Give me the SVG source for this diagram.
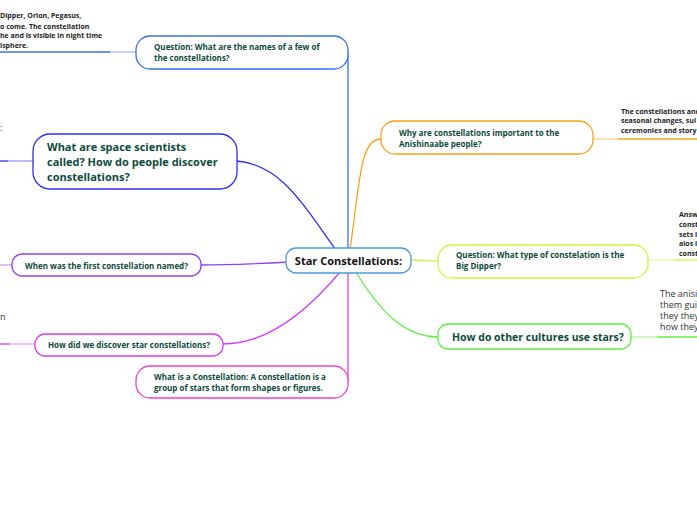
<svg xmlns="http://www.w3.org/2000/svg" width="697" height="520" viewBox="0 0 697 520">
<style>
.n{fill:#fff;stroke-width:1.3}
.t{font-family:"Open Sans","Noto Sans",sans-serif;font-weight:bold;fill:#0c4a3c}
.s{font-size:8px}
.b{font-size:11px}
.l{font-family:"Open Sans","Noto Sans",sans-serif;font-size:7px;font-weight:bold;fill:#222}
.ln{font-family:"Open Sans","Noto Sans",sans-serif;font-size:9px;fill:#333}
path{fill:none;stroke-width:1.3}
</style>
<rect width="697" height="520" fill="#fff"/>
<g id="connectors">
<path d="M348 260 L348 55 Q348 52 345 52" stroke="#3b6cf7"/>
<path d="M336 250 C300 200 280 165 237 161" stroke="#3030e8"/>
<path d="M290 262 C250 264 230 265 201 265" stroke="#9040f0"/>
<path d="M340 272 C300 320 260 344 223 344" stroke="#d040f0"/>
<path d="M348 272 L348 382" stroke="#f040d0"/>
<path d="M350 250 C360 180 360 139 381 139" stroke="#f7a21b"/>
<path d="M411 260 C425 260 430 261 438 261" stroke="#d8f040"/>
<path d="M356 272 C385 320 410 337 438 337" stroke="#60f040"/>
<path d="M136 52 L110 52" stroke="#9db6fb"/><path d="M110 52 L0 52" stroke="#3b6cf7" stroke-width="2"/>
<path d="M33 161 L8 161" stroke="#9898f3"/><path d="M8 161 L0 161" stroke="#3030e8" stroke-width="2"/>
<path d="M12 265 L0 265" stroke="#c8a0f8"/>
<path d="M35 344 L10 344" stroke="#e8a0f8"/><path d="M10 344 L0 344" stroke="#d040f0" stroke-width="2"/>
<path d="M593 139 L618 139" stroke="#fbd08d"/><path d="M618 139 L697 139" stroke="#f7a21b" stroke-width="2"/>
<path d="M648 260 L675 260" stroke="#ecf8a0"/><path d="M675 260 L697 260" stroke="#d8f040" stroke-width="2"/>
<path d="M631 337 L657 337" stroke="#b0f8a0"/><path d="M657 337 L697 337" stroke="#60f040" stroke-width="2"/>
</g>
<g id="center"><rect class="n" x="286" y="248" width="125" height="25" rx="10" stroke="#4a9ad8"/><text x="348.5" y="264.5" text-anchor="middle" font-family="Open Sans,sans-serif" font-weight="bold" font-size="11" fill="#111">Star Constellations:</text></g>
<g id="q1"><rect class="n" x="136" y="36" width="212" height="33" rx="14" stroke="#3b6cf7"/><text class="t s" x="154" y="50">Question: What are the names of a few of</text><text class="t s" x="154" y="61">the constellations?</text></g>
<g id="space"><rect class="n" x="33" y="134" width="204" height="55" rx="17" stroke="#3030e8"/><text class="t b" x="47" y="151">What are space scientists</text><text class="t b" x="47" y="166">called? How do people discover</text><text class="t b" x="47" y="181">constellations?</text></g>
<g id="when"><rect class="n" x="12" y="254" width="189" height="22" rx="10" stroke="#9040f0"/><text class="t s" x="25" y="269">When was the first constellation named?</text></g>
<g id="howdid"><rect class="n" x="35" y="334" width="188" height="22" rx="10" stroke="#d040f0"/><text class="t s" x="48" y="348">How did we discover star constellations?</text></g>
<g id="whatis"><rect class="n" x="136" y="366" width="212" height="32" rx="14" stroke="#f040d0"/><text class="t s" x="154" y="380">What is a Constellation: A constellation is a</text><text class="t s" x="154" y="391">group of stars that form shapes or figures.</text></g>
<g id="why"><rect class="n" x="381" y="121" width="212" height="33" rx="14" stroke="#f7a21b"/><text class="t s" x="399" y="136">Why are constellations important to the</text><text class="t s" x="399" y="147">Anishinaabe people?</text></g>
<g id="bigdipper"><rect class="n" x="438" y="245" width="210" height="33" rx="14" stroke="#d8f040"/><text class="t s" x="456" y="258">Question: What type of constelation is the</text><text class="t s" x="456" y="269">Big Dipper?</text></g>
<g id="cultures"><rect class="n" x="438" y="324" width="193" height="25" rx="10" stroke="#60f040"/><text class="t" font-size="10.5" x="452" y="341">How do other cultures use stars?</text></g>
<g id="leaves">
<text class="l" x="0" y="18">Dipper, Orion, Pegasus,</text>
<text class="l" x="0" y="29">o come. The constellation</text>
<text class="l" x="0" y="38">he and is visible in night time</text>
<text class="l" x="0" y="48">isphere.</text>
<text class="ln" x="0" y="131">:</text>
<text class="ln" x="0" y="320">n</text>
<text class="l" x="621" y="114">The constellations and</text>
<text class="l" x="621" y="123">seasonal changes, sul</text>
<text class="l" x="621" y="133">ceremonies and story</text>
<text class="l" x="679" y="217">Answ</text>
<text class="l" x="679" y="227">const</text>
<text class="l" x="679" y="237">sets i</text>
<text class="l" x="679" y="246">alos i</text>
<text class="l" x="679" y="256">const</text>
<text class="ln" x="660" y="297">The anisi</text>
<text class="ln" x="660" y="308">them gui</text>
<text class="ln" x="660" y="319">they they</text>
<text class="ln" x="660" y="330">how they</text>
</g>
</svg>
